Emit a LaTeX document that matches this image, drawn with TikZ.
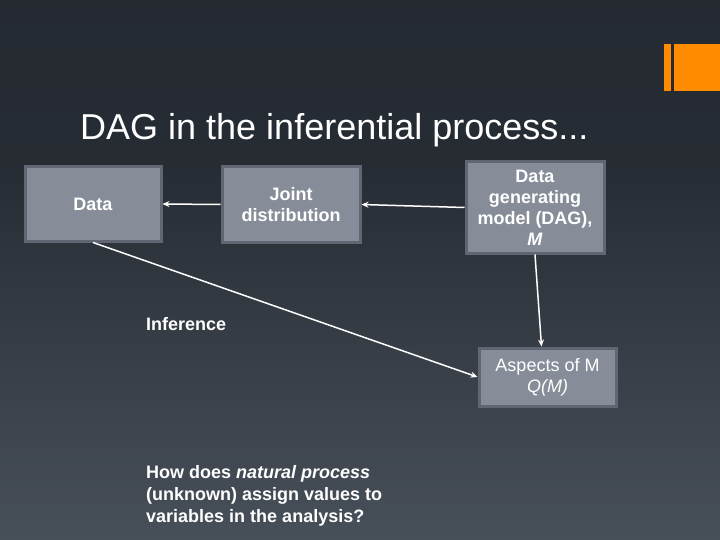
\documentclass[tikz,border=0pt]{standalone}
\usepackage{fontspec}
\setmainfont{Liberation Sans}
\usetikzlibrary{arrows.meta}
\definecolor{bgtop}{HTML}{22272E}
\definecolor{bgbot}{HTML}{5D6772}
\definecolor{boxfill}{HTML}{868D99}
\definecolor{boxline}{HTML}{606773}
\definecolor{accent}{HTML}{FF8C00}
\pgfdeclareverticalshading{slidebg}{100bp}{
  color(0bp)=(bgbot); color(30bp)=(bgbot!55!bgtop); color(60bp)=(bgtop!92!bgbot); color(100bp)=(bgtop)}
\begin{document}
\begin{tikzpicture}[
    x=1pt, y=-1pt,
    box/.style={rectangle, draw=boxline, line width=3pt, fill=boxfill, text=white, align=center, font=\fontsize{18}{21}\selectfont\bfseries, inner sep=0pt},
    arrow/.style={-{Stealth[length=7pt,width=6pt]}, white, line width=1.5pt}
]
% Background
\shade[shading=slidebg] (0,0) rectangle (720,540);
\useasboundingbox (0,0) rectangle (720,540);
\fill[accent] (664,44) rectangle (671,91);
\fill[accent] (674,44) rectangle (720,91);

% Title
\node[anchor=base west, text=white, font=\fontsize{36}{42}\selectfont, inner sep=0pt] (title) at (80,140) {DAG in the inferential process...};

% Boxes
\node[box, minimum width=136pt, minimum height=74pt] (data) at (93,204) {Data};
\node[box, minimum width=138pt, minimum height=75pt] (joint) at (291,204.5) {Joint\\distribution};
\node[box, minimum width=138pt, minimum height=91pt] (dgm) at (535,207.5) {Data\\generating\\model (DAG),\\\textit{M}};
\node[box, minimum width=137pt, minimum height=58pt, font=\fontsize{18}{21}\selectfont] (aspects) at (547.5,377) {Aspects of M\\\textit{Q(M)}};

% Arrows
\draw[arrow] (joint.west) -- (data.east);
\draw[arrow] (dgm.west) -- (joint.east);
\draw[arrow] (dgm.south) -- ([xshift=-6pt]aspects.north);
\draw[arrow] (data.south) -- (aspects.west);

% Labels
\node[anchor=west, text=white, font=\fontsize{18}{21}\selectfont\bfseries, inner sep=0pt] (infer) at (146,324) {Inference};
\node[anchor=north west, text=white, align=left, font=\fontsize{18}{22}\selectfont\bfseries, inner sep=0pt] (question) at (146,465) {How does \textit{natural process}\\(unknown) assign values to\\variables in the analysis?};
\end{tikzpicture}
\end{document}
